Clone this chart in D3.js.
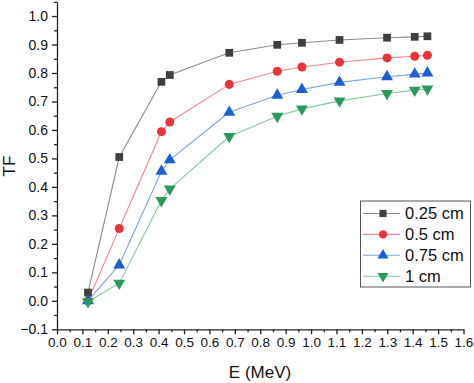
<!DOCTYPE html>
<html><head><meta charset="utf-8">
<script src="https://cdn.jsdelivr.net/npm/d3@7"></script>
<style>body{margin:0;background:#fff}svg{display:block;font-family:Arial,"Liberation Sans",sans-serif}</style>
</head><body>
<svg id="c" width="474" height="383"></svg>
<script>
const energies = [0.122, 0.245, 0.411, 0.444, 0.678, 0.867, 0.964, 1.112, 1.299, 1.408, 1.458];
const tf025 = [0.029, 0.505, 0.769, 0.793, 0.871, 0.899, 0.906, 0.916, 0.924, 0.927, 0.929];
const tf050 = [0.000, 0.254, 0.594, 0.628, 0.760, 0.806, 0.821, 0.838, 0.853, 0.859, 0.862];
const tf075 = [0.000, 0.126, 0.455, 0.495, 0.662, 0.722, 0.742, 0.767, 0.787, 0.796, 0.800];
const tf100 = [-0.003, 0.062, 0.352, 0.393, 0.577, 0.648, 0.674, 0.702, 0.728, 0.740, 0.744];
const seriesNames = ["0.25 cm", "0.5 cm", "0.75 cm", "1 cm"];
const xTicks = [0.0,0.1,0.2,0.3,0.4,0.5,0.6,0.7,0.8,0.9,1.0,1.1,1.2,1.3,1.4,1.5,1.6];
const yTicks = [-0.1,0.0,0.1,0.2,0.3,0.4,0.5,0.6,0.7,0.8,0.9,1.0];

const svg = d3.select("#c");
const x = d3.scaleLinear().domain([0, 1.6]).range([57, 463.5]);
const y = d3.scaleLinear().domain([-0.1, 1.05]).range([329.3, 1.8]);

const series = [
  {name: seriesNames[0], vals: tf025, line: "#8c8c8c", fill: "#3f3f3f", sym: d3.symbolSquare, size: 60, rot: 0},
  {name: seriesNames[1], vals: tf050, line: "#ec8a8c", fill: "#e8353b", sym: d3.symbolCircle, size: 64, rot: 0},
  {name: seriesNames[2], vals: tf075, line: "#7fa3dc", fill: "#1c5fd2", sym: d3.symbolTriangle, size: 62, rot: 0},
  {name: seriesNames[3], vals: tf100, line: "#86c9a0", fill: "#2b9b5c", sym: d3.symbolTriangle, size: 62, rot: 180}
];

// axes
const xMinor = d3.range(0.05, 1.6, 0.1);
const yMinor = d3.range(-0.05, 1.06, 0.1);
const gx = svg.append("g").attr("transform", `translate(0,${y(-0.1)})`);
gx.call(d3.axisBottom(x).tickValues(xMinor).tickSize(3).tickFormat("")).call(g=>g.select(".domain").remove());
gx.append("g").call(d3.axisBottom(x).tickValues(xTicks).tickSize(5).tickSizeOuter(0).tickPadding(3).tickFormat(d3.format(".1f")))
  .call(g=>g.selectAll("text").attr("font-size", 13.5).attr("fill", "#111").attr("font-family", "Arial,'Liberation Sans',sans-serif"));
const gy = svg.append("g").attr("transform", `translate(${x(0)},0)`);
gy.call(d3.axisLeft(y).tickValues(yMinor).tickSize(3).tickFormat("")).call(g=>g.select(".domain").remove());
gy.append("g").call(d3.axisLeft(y).tickValues(yTicks).tickSize(5).tickSizeOuter(0).tickPadding(4).tickFormat(d3.format(".1f")))
  .call(g=>g.selectAll("text").attr("font-size", 14).attr("fill", "#111").attr("font-family", "Arial,'Liberation Sans',sans-serif"));
svg.selectAll(".domain, .tick line").attr("stroke", "#222").attr("stroke-width", 1.3);

// axis titles
svg.append("text").attr("x", 260).attr("y", 378).attr("text-anchor", "middle").attr("font-size", 17).attr("fill", "#111").text("E (MeV)");
svg.append("text").attr("transform", "translate(15,166) rotate(-90)").attr("text-anchor", "middle").attr("font-size", 17).attr("fill", "#111").text("TF");

// series
const line = d3.line().x(d=>x(d[0])).y(d=>y(d[1]));
series.forEach(s => {
  const pts = energies.map((e,i)=>[e, s.vals[i]]);
  svg.append("path").datum(pts).attr("d", line).attr("fill", "none").attr("stroke", s.line).attr("stroke-width", 1.1);
});
series.forEach(s => {
  const pts = energies.map((e,i)=>[e, s.vals[i]]);
  svg.append("g").selectAll("path").data(pts).join("path")
    .attr("d", d3.symbol().type(s.sym).size(s.size))
    .attr("transform", d=>`translate(${x(d[0])},${y(d[1])}) rotate(${s.rot})`)
    .attr("fill", s.fill);
});

// legend
const lg = svg.append("g");
lg.append("rect").attr("x", 360.5).attr("y", 201).attr("width", 110).attr("height", 86).attr("fill", "#fff").attr("stroke", "#555").attr("stroke-width", 1);
series.forEach((s,i) => {
  const cy = 213.5 + i*20.9;
  lg.append("line").attr("x1", 363).attr("x2", 400).attr("y1", cy).attr("y2", cy).attr("stroke", s.line).attr("stroke-width", 1.1);
  lg.append("path").attr("d", d3.symbol().type(s.sym).size(s.size*0.85)).attr("transform", `translate(383,${cy}) rotate(${s.rot})`).attr("fill", s.fill);
  lg.append("text").attr("x", 405).attr("y", cy + 5.8).attr("font-size", 16.5).attr("fill", "#111").text(s.name);
});
</script>
</body></html>
